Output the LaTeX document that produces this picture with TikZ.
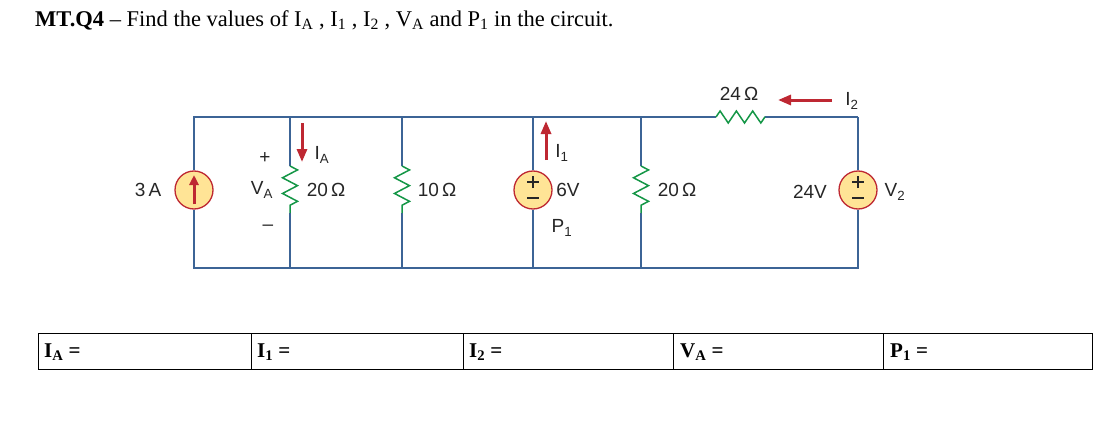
\documentclass[tikz,border=0pt]{standalone}
\usepackage{fontspec}
\setmainfont{Liberation Serif}
\newfontfamily\cf{Liberation Sans}
\usetikzlibrary{decorations.pathmorphing,arrows.meta}
\definecolor{wire}{RGB}{60,100,150}
\definecolor{resg}{RGB}{20,150,70}
\definecolor{arr}{RGB}{190,40,50}
\definecolor{srcf}{RGB}{255,228,150}
\begin{document}
\begin{tikzpicture}[x=1pt,y=-1pt,
  w/.style={draw=wire,line width=1.8pt},
  rv/.style={draw=resg,line width=1.5pt,decorate,decoration={zigzag,segment length=15.7pt,amplitude=7.5pt}},
  rh/.style={draw=resg,line width=1.5pt,decorate,decoration={zigzag,segment length=16.3pt,amplitude=6pt}},
  src/.style={circle,draw=arr,fill=srcf,line width=1.3pt,minimum size=38pt,inner sep=0pt},
  ia/.style={draw=arr,line width=3pt,-{Triangle[length=13pt,width=10pt]}},
  sg/.style={draw=black!85,line width=2pt},
  lb/.style={font=\cf\fontsize{19}{19}\selectfont,text=black!85,inner sep=1pt},
  tb/.style={font=\fontsize{21}{21}\selectfont\bfseries,anchor=west,inner sep=0pt}]
\useasboundingbox (0,0) rectangle (1094,428);
\node[anchor=west,inner sep=0pt,font=\fontsize{22.5}{22.5}\selectfont] (title) at (35,20) {\textbf{MT.Q4} -- Find the values of I\textsubscript{A} , I\textsubscript{1} , I\textsubscript{2} , V\textsubscript{A} and P\textsubscript{1} in the circuit.};
% corners
\coordinate (t1) at (194,117); \coordinate (b1) at (194,268);
\coordinate (t2) at (290,117); \coordinate (b2) at (290,268);
\coordinate (t3) at (402,117); \coordinate (b3) at (402,268);
\coordinate (t4) at (533,117); \coordinate (b4) at (533,268);
\coordinate (t5) at (641,117); \coordinate (b5) at (641,268);
\coordinate (t6) at (858,117); \coordinate (b6) at (858,268);
\coordinate (r2a) at (290,166); \coordinate (r2b) at (290,213);
\coordinate (r3a) at (402,166); \coordinate (r3b) at (402,213);
\coordinate (r5a) at (641,166); \coordinate (r5b) at (641,213);
\coordinate (r6a) at (716,117); \coordinate (r6b) at (765,117);
\node[src] (s1) at (194,190) {};
\node[src] (s4) at (533,190) {};
\node[src] (s6) at (858,190) {};
% wires
\draw[w] (t6) -- (r6b); \draw[w] (r6a) -- (t1) -- (s1.north);
\draw[w] (s1.south) -- (b1) -- (b6) -- (s6.south);
\draw[w] (s6.north) -- (t6);
\draw[w] (t2) -- (r2a); \draw[w] (r2b) -- (b2);
\draw[w] (t3) -- (r3a); \draw[w] (r3b) -- (b3);
\draw[w] (t4) -- (s4.north); \draw[w] (s4.south) -- (b4);
\draw[w] (t5) -- (r5a); \draw[w] (r5b) -- (b5);
% resistors
\draw[rv] (r2a) -- (r2b);
\draw[rv] (r3a) -- (r3b);
\draw[rv] (r5a) -- (r5b);
\draw[rh] (r6a) -- (r6b);
% source symbols
\draw[draw=arr,line width=3pt,-{Triangle[length=10pt,width=9pt]}] (194,204) -- (194,175);
\foreach \s in {s4,s6} {
  \draw[sg] ([xshift=-6pt,yshift=8pt]\s.center) -- ([xshift=6pt,yshift=8pt]\s.center);
  \draw[sg] ([yshift=2pt]\s.center) -- ([yshift=14pt]\s.center);
  \draw[sg] ([xshift=-6pt,yshift=-8pt]\s.center) -- ([xshift=6pt,yshift=-8pt]\s.center);
}
% current arrows
\coordinate (ia1) at (302,123); \coordinate (ia2) at (302,162);
\draw[ia] (ia1) -- (ia2);
\coordinate (i11) at (546,160); \coordinate (i12) at (546,121);
\draw[ia] (i11) -- (i12);
\coordinate (i21) at (832,100); \coordinate (i22) at (778,100);
\draw[ia] (i21) -- (i22);
% labels
\node[lb] (l3a) at (148,190) {3\,A};
\node[lb] (lp) at (265,158) {+};
\node[lb] (lva) at (262,190) {V\textsubscript{A}};
\node[lb] (lm) at (268,228) {–};
\node[lb] (lia) at (322,155) {I\textsubscript{A}};
\node[lb] (l20) at (326,190) {20\,Ω};
\node[lb] (l10) at (437,190) {10\,Ω};
\node[lb] (li1) at (562,153) {I\textsubscript{1}};
\node[lb] (l6) at (568,190) {6V};
\node[lb] (lp1) at (562,228) {P\textsubscript{1}};
\node[lb] (l20b) at (677,190) {20\,Ω};
\node[lb] (l24) at (739,94) {24\,Ω};
\node[lb] (li2) at (852,101) {I\textsubscript{2}};
\node[lb] (l24v) at (810,192) {24V};
\node[lb] (lv2) at (895,192) {V\textsubscript{2}};
% table
\draw[line width=1pt] (38,333) rectangle (1092,369);
\foreach \x in {251,463,673,883} \draw[line width=1pt] (\x,333) -- (\x,369);
\node[tb] (ta) at (44,352) {I\textsubscript{A} =};
\node[tb] (tb1) at (257,352) {I\textsubscript{1} =};
\node[tb] (tc) at (469,352) {I\textsubscript{2} =};
\node[tb] (td) at (680,352) {V\textsubscript{A} =};
\node[tb] (te) at (890,352) {P\textsubscript{1} =};
\end{tikzpicture}
\end{document}
